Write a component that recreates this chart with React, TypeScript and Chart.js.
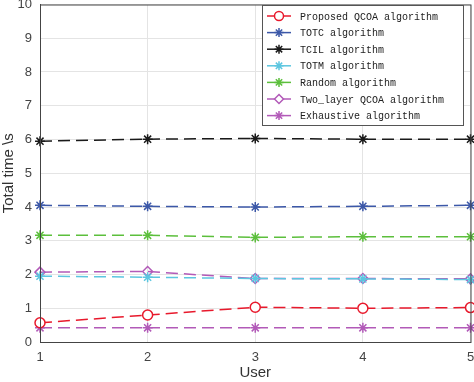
import React, { useEffect, useRef } from "react";
import { Chart, registerables } from "chart.js";

Chart.register(...registerables);

const users = ["1", "2", "3", "4", "5"];
const seriesNames = [
  "Proposed QCOA algorithm",
  "TOTC algorithm",
  "TCIL algorithm",
  "TOTM algorithm",
  "Random algorithm",
  "Two_layer QCOA algorithm",
  "Exhaustive algorithm",
];
const proposed = [0.57, 0.8, 1.03, 1.0, 1.02];
const totc = [4.05, 4.02, 4.0, 4.02, 4.05];
const tcil = [5.95, 6.01, 6.03, 6.01, 6.01];
const totm = [1.95, 1.92, 1.88, 1.87, 1.85];
const random = [3.16, 3.16, 3.1, 3.12, 3.12];
const twoLayer = [2.07, 2.09, 1.88, 1.88, 1.87];
const exhaustive = [0.42, 0.42, 0.42, 0.42, 0.42];

const seriesValues = [proposed, totc, tcil, totm, random, twoLayer, exhaustive];
const colors = ["#e8192c", "#3c58a8", "#1a1a1a", "#5cc6e0", "#5cbf3c", "#b25ab8", "#b25ab8"];
const styles = ["circle", "star", "star", "star", "star", "rectRot", "star"];

function marker(c: CanvasRenderingContext2D, style: string, x: number, y: number, r: number, color: string) {
  c.save();
  c.setLineDash([]);
  c.strokeStyle = color;
  c.lineWidth = 1.5;
  c.beginPath();
  if (style === "circle") {
    c.fillStyle = "#fff";
    c.arc(x, y, r, 0, Math.PI * 2);
    c.fill();
    c.stroke();
  } else if (style === "rectRot") {
    c.fillStyle = "#fff";
    c.moveTo(x, y - r);
    c.lineTo(x + r, y);
    c.lineTo(x, y + r);
    c.lineTo(x - r, y);
    c.closePath();
    c.fill();
    c.stroke();
  } else {
    for (let k = 0; k < 4; k++) {
      const a = (k * Math.PI) / 4;
      c.moveTo(x - r * Math.cos(a), y - r * Math.sin(a));
      c.lineTo(x + r * Math.cos(a), y + r * Math.sin(a));
    }
    c.stroke();
  }
  c.restore();
}

export default function App() {
  const ref = useRef<HTMLCanvasElement>(null);
  useEffect(() => {
    document.body.style.margin = "0";
    const ctx = ref.current!;
    const boxPlugin = {
      id: "box",
      afterDraw(chart: any) {
        const { ctx: c, chartArea: a } = chart;
        c.save();
        c.strokeStyle = "#444";
        c.lineWidth = 1;
        c.setLineDash([]);
        c.strokeRect(a.left + 0.5, a.top + 0.5, a.right - a.left, a.bottom - a.top);
        const lx = 262, ly = 7, lw = 201, lh = 120;
        c.fillStyle = "#fff";
        c.fillRect(lx, ly, lw, lh);
        c.strokeStyle = "#555";
        c.strokeRect(lx + 0.5, ly + 0.5, lw, lh);
        c.font = "10px 'Liberation Mono', monospace";
        c.textBaseline = "middle";
        c.textAlign = "left";
        chart.data.datasets.forEach((ds: any, i: number) => {
          const y = ly + 11 + i * 16.6;
          c.strokeStyle = ds.borderColor;
          c.lineWidth = 1.5;
          c.beginPath();
          c.moveTo(lx + 5, y);
          c.lineTo(lx + 29, y);
          c.stroke();
          marker(c, ds.pointStyle, lx + 17, y, 4.5, ds.borderColor);
          c.fillStyle = "#222";
          c.fillText(ds.label, lx + 38, y + 1);
        });
        c.restore();
      },
    };
    const chart = new Chart(ctx, {
      type: "line",
      data: {
        labels: users,
        datasets: seriesValues.map((vals, i) => ({
          label: seriesNames[i],
          data: vals,
          borderColor: colors[i],
          backgroundColor: colors[i],
          pointBackgroundColor: i === 0 ? "#fff" : "rgba(255,255,255,0)",
          pointBorderColor: colors[i],
          pointStyle: styles[i] as any,
          pointRadius: 5,
          pointBorderWidth: 1.5,
          borderWidth: 1.5,
          borderDash: [12, 6],
          fill: false,
          tension: 0,
        })),
      },
      options: {
        animation: false,
        responsive: false,
        layout: { padding: { top: 2, right: 0, left: 0, bottom: 0 } },
        plugins: { legend: { display: false }, tooltip: { enabled: false } },
        scales: {
          x: {
            offset: false,
            grid: { color: "#e4e4e4", drawTicks: false },
            border: { color: "#444" },
            ticks: { color: "#444", font: { family: "'Liberation Sans', Arial", size: 13 }, padding: 8 },
            title: { display: true, text: "User", color: "#333", font: { family: "'Liberation Sans', Arial", size: 15 }, padding: { top: 0, bottom: 0 } },
            afterFit: (s: any) => { s.height = 40; s.paddingLeft = 0; s.paddingRight = 0; },
          },
          y: {
            min: 0,
            max: 10,
            grid: { color: "#e4e4e4", drawTicks: false },
            border: { color: "#444" },
            ticks: { stepSize: 1, color: "#444", font: { family: "'Liberation Sans', Arial", size: 13 }, padding: 8 },
            title: { display: true, text: "Total time \\s", color: "#333", font: { family: "'Liberation Sans', Arial", size: 15 }, padding: { top: 0, bottom: 0 } },
            afterFit: (s: any) => { s.width = 40; s.paddingTop = 0; s.paddingBottom = 0; },
          },
        },
      },
      plugins: [boxPlugin],
    });
    return () => chart.destroy();
  }, []);
  return (
    <div style={{ width: 474, height: 382, overflow: "hidden", position: "relative" }}>
      <canvas ref={ref} width={477} height={384} style={{ display: "block", position: "absolute", left: 0, top: -2 }} />
    </div>
  );
}
